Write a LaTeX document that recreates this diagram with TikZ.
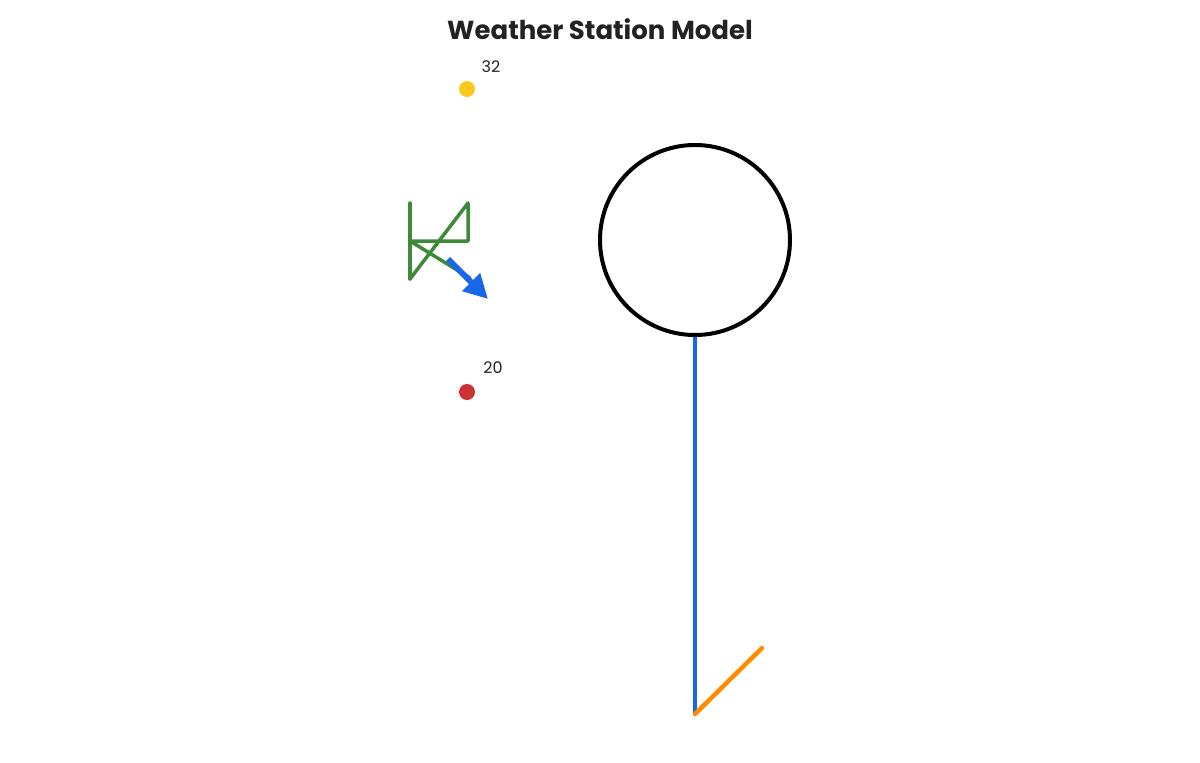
\documentclass[tikz,border=0pt]{standalone}
\usepackage{fontspec}
\setmainfont{Poppins}
\usetikzlibrary{arrows.meta}
\definecolor{wgreen}{HTML}{3F8A3A}
\definecolor{wblue}{HTML}{1A66E8}
\definecolor{worange}{HTML}{FF8C00}
\definecolor{wyellow}{HTML}{F9C91E}
\definecolor{wred}{HTML}{CC3333}
\definecolor{wtext}{HTML}{222222}
\tikzset{
  greenline/.style={draw=wgreen, line width=3.5pt, line cap=round, line join=round},
  dot/.style={circle, inner sep=0pt, minimum size=16pt},
  val/.style={font=\fontsize{16}{18}\selectfont, text=wtext, inner sep=0pt},
}
\begin{document}
\begin{tikzpicture}[x=1pt,y=-1pt]
\useasboundingbox (0,0) rectangle (1200,763);
\node[font=\fontsize{26}{30}\selectfont\bfseries, text=wtext] (title) at (600,29) {Weather Station Model};
% temperature
\node[dot, fill=wyellow] (tdot) at (467,89) {};
\node[val] (tval) at (491,67) {32};
% dew point
\node[dot, fill=wred] (ddot) at (467,392) {};
\node[val] (dval) at (493,368) {20};
% station circle
\node[circle, draw=black, line width=4pt, minimum size=190pt, inner sep=0pt] (station) at (695,240) {};
% wind shaft and barb
\coordinate (shaftend) at (695,714);
\coordinate (barbend) at (762,648);
\draw[wblue, line width=4.5pt] (station.south) -- (shaftend);
\draw[worange, line width=4.5pt, line cap=round] (shaftend) -- (barbend);
% green symbol
\coordinate (g1) at (410,203);
\coordinate (g2) at (410,279);
\coordinate (g3) at (410,241);
\coordinate (g4) at (468,241);
\coordinate (g5) at (468,203);
\coordinate (g6) at (470,278);
\draw[greenline] (g1) -- (g2);
\draw[greenline] (g3) -- (g4) -- (g5) -- (g2);
\draw[greenline] (g3) -- (g6);
% blue arrow
\coordinate (a1) at (448,259);
\coordinate (a2) at (488,299);
\draw[wblue, line width=6pt, -{Triangle[length=24pt,width=24pt]}] (a1) -- (a2);
\end{tikzpicture}
\end{document}
